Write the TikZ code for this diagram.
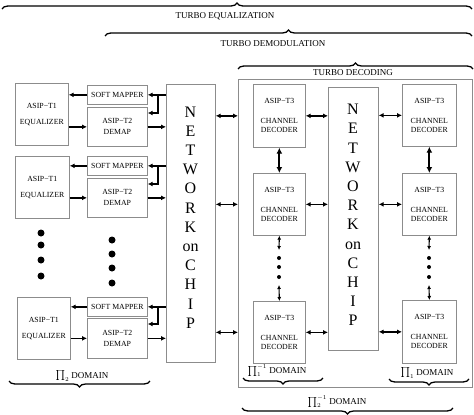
\documentclass[tikz,border=0pt]{standalone}
\usepackage{fontspec}
\setmainfont{Liberation Serif}
\usetikzlibrary{arrows.meta,decorations.pathreplacing,calc}
\begin{document}
\begin{tikzpicture}[x=1pt,y=-1pt,
  box/.style={draw=black!45,line width=0.7pt,anchor=north west,inner sep=0pt,align=center,font=\fontsize{7.8}{9}\selectfont},
  arr/.style={line width=1.4pt,-{Latex[length=5pt,width=5pt]}},
  darr/.style={line width=1.4pt,{Latex[length=5pt,width=5pt]}-{Latex[length=5pt,width=5pt]}},
  thk/.style={line width=2pt,{Latex[length=6pt,width=6pt]}-{Latex[length=6pt,width=6pt]}},
  thinarr/.style={line width=1.1pt,{Latex[length=4pt,width=4pt]}-{Latex[length=4pt,width=4pt]}},
  lab/.style={font=\fontsize{9}{10}\selectfont,inner sep=0pt},
  brc/.style={decorate,decoration={brace,amplitude=6pt},line width=1.3pt},
  nocl/.style={font=\fontsize{16}{19.2}\selectfont,align=center,inner sep=0pt},
  bigdot/.style={circle,fill=black,inner sep=0pt,minimum size=7pt},
  smdot/.style={circle,fill=black,inner sep=0pt,minimum size=4pt}]
\useasboundingbox (0,0) rectangle (474,415);

% braces top
\draw[brc] (2,9) -- (472,9);
\node[lab] (tEq) at (225,16) {TURBO EQUALIZATION};
\draw[brc] (105,36) -- (472,36);
\node[lab] (tDm) at (273,44) {TURBO DEMODULATION};
\draw[brc] (238,69) -- (473,69);
\node[lab] (tDc) at (353,73) {TURBO DECODING};

% big decoding box
\node[box,minimum width=234pt,minimum height=308pt] (big) at (238,79) {};

% left groups
\node[box,minimum width=53pt,minimum height=62pt] (eq1) at (15,83) {ASIP−T1\\[7pt]EQUALIZER};
\node[box,minimum width=60pt,minimum height=19pt] (sm1) at (87,85) {SOFT MAPPER};
\node[box,minimum width=60pt,minimum height=39pt] (dm1) at (87,107) {ASIP−T2\\[2pt]DEMAP};

\node[box,minimum width=54pt,minimum height=62pt] (eq2) at (15,156) {ASIP−T1\\[7pt]EQUALIZER};
\node[box,minimum width=60pt,minimum height=19pt] (sm2) at (87,156) {SOFT MAPPER};
\node[box,minimum width=60pt,minimum height=39pt] (dm2) at (87,178) {ASIP−T2\\[2pt]DEMAP};

\node[box,minimum width=53pt,minimum height=62pt] (eq3) at (17,297) {ASIP−T1\\[7pt]EQUALIZER};
\node[box,minimum width=60pt,minimum height=19pt] (sm3) at (87,297) {SOFT MAPPER};
\node[box,minimum width=60pt,minimum height=40pt] (dm3) at (87,318) {ASIP−T2\\[2pt]DEMAP};

% NoC 1
\node[box,minimum width=49pt,minimum height=278pt] (noc1) at (166,84) {};
\node[nocl] (noc1t) at (190.5,217.5) {N\\E\\T\\W\\O\\R\\K\\on\\C\\H\\I\\P};

% dots left
\foreach \yy [count=\i] in {233,245,260,276} \node[bigdot] (ldA\i) at (41,\yy) {};
\foreach \yy [count=\i] in {240,254,268,283} \node[bigdot] (ldB\i) at (112,\yy) {};

% group arrows
\foreach \k in {1,2,3}{
  \draw[arr] (sm\k.west) -- (sm\k.west -| eq\k.east);
  \draw[arr] (dm\k.west -| eq\k.east) -- (dm\k.west);
  \draw[arr] (dm\k.east) -- (dm\k.east -| noc1.west);
  \draw[arr] (sm\k.east -| noc1.west) -- (sm\k.east);
  \draw[arr] ($(sm\k.east -| noc1.west)+(-8,0)$) |- ($(dm\k.north east)+(0,6)$);
}

% decoders
\node[box,minimum width=52pt,minimum height=63pt] (dA1) at (253,84) {ASIP−T3\\[11pt]CHANNEL\\DECODER};
\node[box,minimum width=52pt,minimum height=62pt] (dA2) at (253,173) {ASIP−T3\\[11pt]CHANNEL\\DECODER};
\node[box,minimum width=52pt,minimum height=62pt] (dA3) at (253,301) {ASIP−T3\\[11pt]CHANNEL\\DECODER};
\node[box,minimum width=54pt,minimum height=62pt] (dB1) at (402,84) {ASIP−T3\\[11pt]CHANNEL\\DECODER};
\node[box,minimum width=54pt,minimum height=62pt] (dB2) at (402,173) {ASIP−T3\\[11pt]CHANNEL\\DECODER};
\node[box,minimum width=54pt,minimum height=63pt] (dB3) at (402,300) {ASIP−T3\\[11pt]CHANNEL\\DECODER};

% NoC 2
\node[box,minimum width=50pt,minimum height=263pt] (noc2) at (328,87) {};
\node[nocl] (noc2t) at (353,215) {N\\E\\T\\W\\O\\R\\K\\on\\C\\H\\I\\P};

% NoC1 <-> big box
\foreach \k in {1,2,3}{
  \draw[darr] (noc1.east |- dA\k.center) -- (big.west |- dA\k.center);
  \draw[darr] (dA\k.east) -- (dA\k.east -| noc2.west);
  \draw[darr] (dB\k.west -| noc2.east) -- (dB\k.west);
}

% vertical arrows
\draw[thk] (dA1.south) -- (dA2.north);
\draw[thk] (dB1.south) -- (dB2.north);
\coordinate (cA1) at (279,250);
\coordinate (cA2) at (279,285);
\coordinate (cB1) at (429,250);
\coordinate (cB2) at (429,285);
\draw[thinarr] (dA2.south) -- (cA1);
\draw[thinarr] (cA2) -- (dA3.north);
\draw[thinarr] (dB2.south) -- (cB1);
\draw[thinarr] (cB2) -- (dB3.north);
\foreach \yy [count=\i] in {258,267,277}{
  \node[smdot] (sdA\i) at (279,\yy) {};
  \node[smdot] (sdB\i) at (429,\yy) {};
}

% domain labels
\node[lab] (lP2) at (82,376) {$\prod_2$ DOMAIN};
\draw[brc] (150,381) -- (9,381);
\node[lab] (lP1i) at (277,371) {$\prod_1^{-1}$ DOMAIN};
\draw[brc] (323,378) -- (243,378);
\node[lab] (lP1) at (427,373) {$\prod_1$ DOMAIN};
\draw[brc] (469,379) -- (389,379);
\node[lab] (lP2i) at (337,402) {$\prod_2^{-1}$ DOMAIN};
\draw[brc] (453,408) -- (242,408);
\end{tikzpicture}
\end{document}
